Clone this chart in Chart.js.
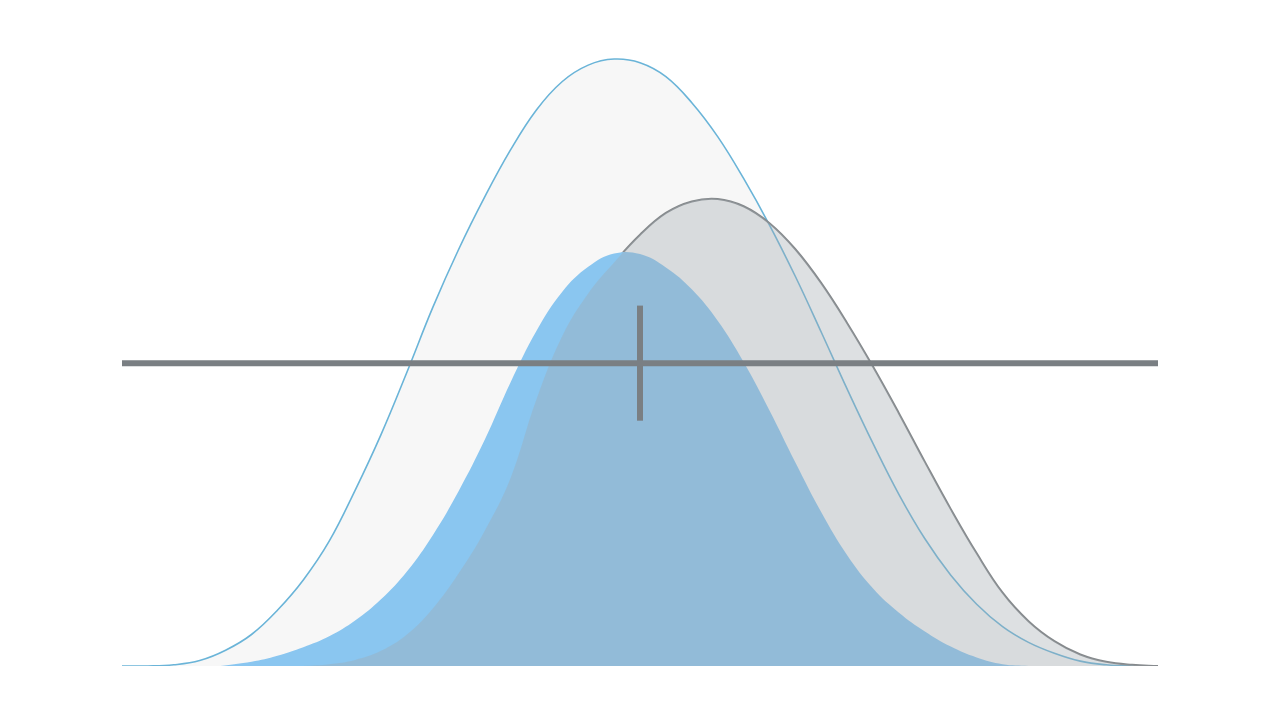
<!DOCTYPE html>
<html>
<head>
<meta charset="utf-8">
<script src="https://cdn.jsdelivr.net/npm/chart.js@4"></script>
<style>
html,body{margin:0;padding:0;background:#ffffff;}
#wrap{width:1280px;height:720px;}
</style>
</head>
<body>
<div id="wrap"><canvas id="c" width="1280" height="720"></canvas></div>
<script>
// Wide outlined distribution
const lightX = [0, 2.5, 5, 7.5, 10, 12.5, 15, 17.5, 20, 22.5, 25, 27.5, 30, 32.5, 35, 37.5, 40, 42.5, 45, 47.5, 50, 52.5, 55, 57.5, 60, 62.5, 65, 67.5, 70, 72.5, 75, 77.5, 80, 82.5, 85, 87.5, 90, 92.5, 95, 97.5, 100];
const lightY = [0, 0, 0.2, 0.9, 2.6, 5.2, 9.2, 14.2, 20.6, 29.0, 38.2, 48.5, 59.2, 68.8, 77.4, 85.2, 91.8, 96.5, 99.2, 100.2, 99.6, 97.3, 93.0, 87.4, 80.5, 72.8, 64.3, 55.1, 45.7, 36.7, 28.3, 21.0, 15.0, 10.2, 6.5, 3.9, 2.1, 0.8, 0.2, 0, 0];

// Gray shifted distribution
const grayX = [17.5, 20, 22.5, 25, 27.5, 30, 32.5, 35, 37.5, 40, 42.5, 45, 47.5, 50, 52.5, 55, 57.5, 60, 62.5, 65, 67.5, 70, 72.5, 75, 77.5, 80, 82.5, 85, 87.5, 90, 92.5, 95, 97.5, 100];
const grayY = [0, 0.3, 1.0, 2.5, 5.2, 9.5, 15.3, 22.3, 31.0, 44.0, 54.5, 61.5, 66.6, 71.2, 74.8, 76.7, 77.1, 75.9, 73.1, 68.8, 63.2, 56.6, 49.4, 41.7, 33.7, 25.9, 18.6, 12.1, 7.4, 4.1, 1.9, 0.7, 0.2, 0];

// Blue filled distribution
const blueX = [9.5, 12.5, 15, 17.5, 20, 22.5, 25, 27.5, 30, 32.5, 35, 37.5, 40, 42.5, 45, 47.5, 50, 52.5, 55, 57.5, 60, 62.5, 65, 67.5, 70, 72.5, 75, 77.5, 80, 82.5, 85, 87.5];
const blueY = [0, 0.7, 1.7, 3.1, 4.9, 7.5, 11.0, 15.6, 21.6, 28.9, 37.3, 46.8, 55.3, 61.8, 65.9, 68.1, 68.0, 65.8, 62.2, 57.0, 50.2, 42.2, 33.6, 25.4, 18.3, 12.8, 8.8, 5.7, 3.2, 1.4, 0.3, 0];

// Reference line and marker
const hLineX = [0, 100];
const hLineY = [50, 50];
const markX = [50, 50];
const markY = [40.5, 59.5];

function pts(xs, ys) { return xs.map((x, i) => ({ x: x, y: ys[i] })); }

const curve = { pointRadius: 0, tension: 0.4 };
const straight = { pointRadius: 0, tension: 0, fill: false, borderColor: '#7a7f83', borderWidth: 6, borderCapStyle: 'butt', order: 0 };

new Chart(document.getElementById('c'), {
  type: 'line',
  data: {
    datasets: [
      Object.assign({ data: pts(hLineX, hLineY) }, straight),
      Object.assign({ data: pts(markX, markY) }, straight),
      // gray fill (on top of blue, translucent)
      Object.assign({ data: pts(grayX, grayY), borderWidth: 0, borderColor: 'rgba(0,0,0,0)', backgroundColor: 'rgba(160,168,176,0.36)', fill: 'origin', order: 1 }, curve),
      // blue fill
      Object.assign({ data: pts(blueX, blueY), borderWidth: 0, borderColor: 'rgba(0,0,0,0)', backgroundColor: '#8ac6f0', fill: 'origin', order: 2 }, curve),
      // gray outline (hidden under the blue where it passes beneath)
      Object.assign({ data: pts(grayX, grayY), borderWidth: 2, borderColor: '#85898c', fill: false, order: 3 }, curve),
      // wide outlined curve
      Object.assign({ data: pts(lightX, lightY), borderWidth: 1.6, borderColor: '#6ab4d8', backgroundColor: '#f7f7f7', fill: 'origin', order: 4 }, curve)
    ]
  },
  options: {
    responsive: false,
    animation: false,
    devicePixelRatio: 1,
    layout: { padding: { left: 122, right: 122, top: 30, bottom: 54 } },
    plugins: { legend: { display: false }, tooltip: { enabled: false } },
    scales: {
      x: { type: 'linear', min: 0, max: 100, display: false },
      y: { type: 'linear', min: 0, max: 105, display: false }
    }
  }
});
</script>
</body>
</html>
